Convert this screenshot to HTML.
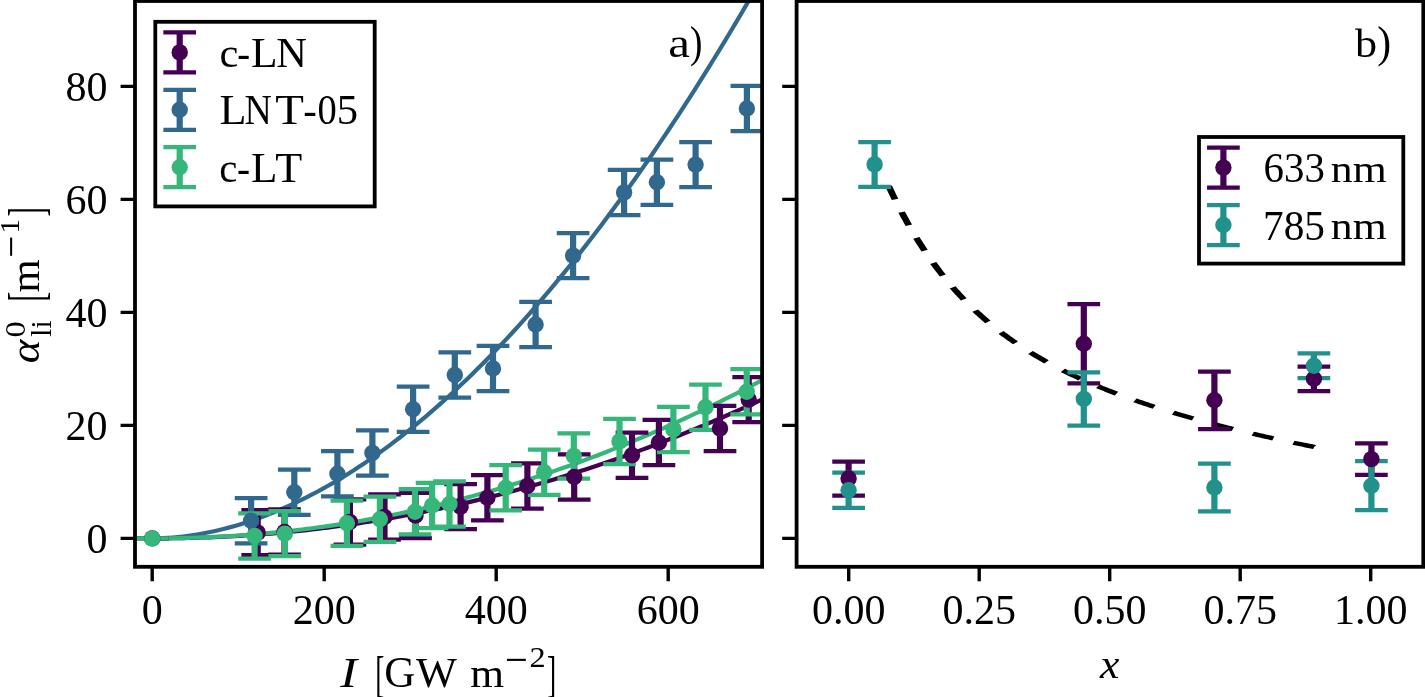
<!DOCTYPE html>
<html lang="en"><head><meta charset="utf-8"><title>Light-induced absorption</title>
<style>html,body{margin:0;padding:0;background:#fff}body{width:1425px;height:697px;overflow:hidden}svg{display:block}text{font-family:"Liberation Serif","DejaVu Serif",serif;fill:#000}</style>
</head><body>
<svg width="1425" height="697" viewBox="0 0 1425 697">
<rect width="1425" height="697" fill="#fff"/>
<defs><clipPath id="cl"><rect x="135.0" y="1.0" width="627.1" height="565.8"/></clipPath>
<clipPath id="cr"><rect x="796.6" y="1.0" width="626.6999999999999" height="565.8"/></clipPath></defs>
<g clip-path="url(#cl)">
<path d="M152.2 538.4L157.36 538.39L162.52 538.37L167.68 538.33L172.84 538.27L178 538.19L183.16 538.09L188.32 537.98L193.48 537.84L198.64 537.69L203.8 537.52L208.96 537.33L214.12 537.12L219.28 536.89L224.44 536.65L229.6 536.38L234.76 536.1L239.92 535.79L245.08 535.47L250.24 535.12L255.4 534.76L260.56 534.38L265.72 533.97L270.88 533.55L276.04 533.11L281.2 532.65L286.36 532.17L291.52 531.67L296.68 531.14L301.84 530.6L307 530.04L312.16 529.46L317.32 528.86L322.48 528.24L327.64 527.6L332.8 526.94L337.96 526.26L343.12 525.55L348.28 524.83L353.44 524.09L358.6 523.33L363.76 522.54L368.92 521.74L374.08 520.92L379.24 520.07L384.4 519.21L389.56 518.33L394.72 517.42L399.88 516.5L405.04 515.55L410.2 514.58L415.36 513.6L420.52 512.59L425.68 511.56L430.84 510.51L436 509.45L441.16 508.36L446.32 507.25L451.48 506.12L456.64 504.96L461.8 503.79L466.96 502.6L472.12 501.39L477.28 500.15L482.44 498.9L487.6 497.62L492.76 496.32L497.92 495.01L503.08 493.67L508.24 492.31L513.4 490.93L518.56 489.53L523.72 488.11L528.88 486.67L534.04 485.2L539.2 483.72L544.36 482.21L549.52 480.69L554.68 479.14L559.84 477.57L565 475.98L570.16 474.37L575.32 472.74L580.48 471.09L585.64 469.42L590.8 467.72L595.96 466.01L601.12 464.27L606.28 462.51L611.44 460.74L616.6 458.94L621.76 457.12L626.92 455.27L632.08 453.41L637.24 451.53L642.4 449.62L647.56 447.7L652.72 445.75L657.88 443.78L663.04 441.79L668.2 439.78L673.36 437.75L678.52 435.69L683.68 433.62L688.84 431.52L694 429.41L699.16 427.27L704.32 425.11L709.48 422.93L714.64 420.72L719.8 418.5L724.96 416.25L730.12 413.99L735.28 411.7L740.44 409.39L745.6 407.06L750.76 404.71L755.92 402.33L761.08 399.94L766.24 397.52L771.4 395.09" stroke="#440154" stroke-width="4.2" fill="none" stroke-linejoin="round"/>
<path d="M152.2 538.4L157.36 538.34L162.52 538.16L167.68 537.88L172.84 537.51L178 537.04L183.16 536.47L188.32 535.81L193.48 535.06L198.64 534.23L203.8 533.3L208.96 532.29L214.12 531.18L219.28 530L224.44 528.72L229.6 527.37L234.76 525.93L239.92 524.4L245.08 522.79L250.24 521.1L255.4 519.33L260.56 517.47L265.72 515.53L270.88 513.51L276.04 511.41L281.2 509.23L286.36 506.97L291.52 504.63L296.68 502.21L301.84 499.72L307 497.14L312.16 494.48L317.32 491.75L322.48 488.93L327.64 486.04L332.8 483.07L337.96 480.02L343.12 476.9L348.28 473.7L353.44 470.42L358.6 467.06L363.76 463.63L368.92 460.12L374.08 456.54L379.24 452.88L384.4 449.14L389.56 445.33L394.72 441.44L399.88 437.48L405.04 433.44L410.2 429.32L415.36 425.14L420.52 420.87L425.68 416.53L430.84 412.12L436 407.63L441.16 403.07L446.32 398.44L451.48 393.73L456.64 388.94L461.8 384.08L466.96 379.15L472.12 374.15L477.28 369.07L482.44 363.92L487.6 358.69L492.76 353.4L497.92 348.03L503.08 342.58L508.24 337.07L513.4 331.48L518.56 325.82L523.72 320.08L528.88 314.27L534.04 308.4L539.2 302.45L544.36 296.42L549.52 290.33L554.68 284.16L559.84 277.92L565 271.61L570.16 265.23L575.32 258.78L580.48 252.25L585.64 245.65L590.8 238.99L595.96 232.25L601.12 225.44L606.28 218.56L611.44 211.6L616.6 204.58L621.76 197.49L626.92 190.32L632.08 183.09L637.24 175.78L642.4 168.41L647.56 160.96L652.72 153.44L657.88 145.85L663.04 138.2L668.2 130.47L673.36 122.67L678.52 114.8L683.68 106.86L688.84 98.86L694 90.78L699.16 82.63L704.32 74.41L709.48 66.13L714.64 57.77L719.8 49.35L724.96 40.85L730.12 32.29L735.28 23.65L740.44 14.95L745.6 6.18L750.76 -2.67L755.92 -11.58L761.08 -20.56L766.24 -29.61L771.4 -38.72" stroke="#31688e" stroke-width="4.2" fill="none" stroke-linejoin="round"/>
<path d="M152.2 538.4L157.36 538.39L162.52 538.36L167.68 538.32L172.84 538.25L178 538.16L183.16 538.05L188.32 537.92L193.48 537.77L198.64 537.59L203.8 537.4L208.96 537.18L214.12 536.94L219.28 536.69L224.44 536.4L229.6 536.1L234.76 535.78L239.92 535.43L245.08 535.06L250.24 534.67L255.4 534.25L260.56 533.82L265.72 533.36L270.88 532.88L276.04 532.37L281.2 531.85L286.36 531.3L291.52 530.73L296.68 530.13L301.84 529.52L307 528.88L312.16 528.22L317.32 527.53L322.48 526.82L327.64 526.09L332.8 525.34L337.96 524.56L343.12 523.76L348.28 522.94L353.44 522.1L358.6 521.23L363.76 520.34L368.92 519.42L374.08 518.48L379.24 517.52L384.4 516.54L389.56 515.53L394.72 514.5L399.88 513.44L405.04 512.37L410.2 511.27L415.36 510.14L420.52 508.99L425.68 507.82L430.84 506.63L436 505.41L441.16 504.17L446.32 502.91L451.48 501.62L456.64 500.3L461.8 498.97L466.96 497.61L472.12 496.23L477.28 494.82L482.44 493.39L487.6 491.94L492.76 490.46L497.92 488.96L503.08 487.44L508.24 485.89L513.4 484.32L518.56 482.72L523.72 481.1L528.88 479.46L534.04 477.79L539.2 476.1L544.36 474.38L549.52 472.64L554.68 470.88L559.84 469.1L565 467.29L570.16 465.45L575.32 463.59L580.48 461.71L585.64 459.8L590.8 457.87L595.96 455.92L601.12 453.94L606.28 451.94L611.44 449.91L616.6 447.86L621.76 445.79L626.92 443.69L632.08 441.57L637.24 439.42L642.4 437.25L647.56 435.06L652.72 432.84L657.88 430.6L663.04 428.33L668.2 426.04L673.36 423.72L678.52 421.38L683.68 419.02L688.84 416.63L694 414.22L699.16 411.78L704.32 409.32L709.48 406.83L714.64 404.33L719.8 401.79L724.96 399.23L730.12 396.65L735.28 394.04L740.44 391.41L745.6 388.76L750.76 386.08L755.92 383.37L761.08 380.65L766.24 377.89L771.4 375.12" stroke="#35b779" stroke-width="4.2" fill="none" stroke-linejoin="round"/>
<path d="M257.7 510V555.2M284.5 509.4V554.6M349.9 499.4V544.6M384.5 494.4V539.6M415.5 492.9V538.1M460.6 484V529.2M487.4 475.2V520.4M527.4 463.4V508.6M574.2 454.4V499.6M632 432.7V477.9M658.9 419.9V465.1M720 405.8V451M748.7 377V422.2" stroke="#440154" stroke-width="6.2" fill="none"/>
<path d="M135.85 538.4H168.55M135.85 538.4H168.55M241.35 510H274.05M241.35 555.2H274.05M268.15 509.4H300.85M268.15 554.6H300.85M333.55 499.4H366.25M333.55 544.6H366.25M368.15 494.4H400.85M368.15 539.6H400.85M399.15 492.9H431.85M399.15 538.1H431.85M444.25 484H476.95M444.25 529.2H476.95M471.05 475.2H503.75M471.05 520.4H503.75M511.05 463.4H543.75M511.05 508.6H543.75M557.85 454.4H590.55M557.85 499.6H590.55M615.65 432.7H648.35M615.65 477.9H648.35M642.55 419.9H675.25M642.55 465.1H675.25M703.65 405.8H736.35M703.65 451H736.35M732.35 377H765.05M732.35 422.2H765.05" stroke="#440154" stroke-width="4.25" fill="none"/>
<path d="M251.1 498.2V543.4M294.3 469.6V514.8M337.4 451.2V496.4M372.4 430.3V475.5M413.1 386.6V431.8M454.8 352.4V397.6M493 345.9V391.1M535.6 301.9V347.1M573.1 233V278.2M624.1 169.8V215M656.9 159.6V204.8M695.6 142V187.2M746.9 85.9V131.1" stroke="#31688e" stroke-width="6.2" fill="none"/>
<path d="M234.75 498.2H267.45M234.75 543.4H267.45M277.95 469.6H310.65M277.95 514.8H310.65M321.05 451.2H353.75M321.05 496.4H353.75M356.05 430.3H388.75M356.05 475.5H388.75M396.75 386.6H429.45M396.75 431.8H429.45M438.45 352.4H471.15M438.45 397.6H471.15M476.65 345.9H509.35M476.65 391.1H509.35M519.25 301.9H551.95M519.25 347.1H551.95M556.75 233H589.45M556.75 278.2H589.45M607.75 169.8H640.45M607.75 215H640.45M640.55 159.6H673.25M640.55 204.8H673.25M679.25 142H711.95M679.25 187.2H711.95M730.55 85.9H763.25M730.55 131.1H763.25" stroke="#31688e" stroke-width="4.25" fill="none"/>
<path d="M254.6 513.3V558.5M284.8 511V556.2M346.9 500.6V545.8M379.9 496.7V541.9M415 489.2V534.4M432.1 482.9V528.1M449.5 481.4V526.6M505.7 465.2V510.4M544.2 449.6V494.8M573.8 433.4V478.6M619.5 418.8V464M673.4 406.8V452M705.5 384.7V429.9M746.7 369.2V414.4" stroke="#35b779" stroke-width="6.2" fill="none"/>
<path d="M135.85 538.4H168.55M135.85 538.4H168.55M238.25 513.3H270.95M238.25 558.5H270.95M268.45 511H301.15M268.45 556.2H301.15M330.55 500.6H363.25M330.55 545.8H363.25M363.55 496.7H396.25M363.55 541.9H396.25M398.65 489.2H431.35M398.65 534.4H431.35M415.75 482.9H448.45M415.75 528.1H448.45M433.15 481.4H465.85M433.15 526.6H465.85M489.35 465.2H522.05M489.35 510.4H522.05M527.85 449.6H560.55M527.85 494.8H560.55M557.45 433.4H590.15M557.45 478.6H590.15M603.15 418.8H635.85M603.15 464H635.85M657.05 406.8H689.75M657.05 452H689.75M689.15 384.7H721.85M689.15 429.9H721.85M730.35 369.2H763.05M730.35 414.4H763.05" stroke="#35b779" stroke-width="4.25" fill="none"/>
<g fill="#440154"><circle cx="152.2" cy="538.4" r="8.2"/><circle cx="257.7" cy="532.6" r="8.2"/><circle cx="284.5" cy="532" r="8.2"/><circle cx="349.9" cy="522" r="8.2"/><circle cx="384.5" cy="517" r="8.2"/><circle cx="415.5" cy="515.5" r="8.2"/><circle cx="460.6" cy="506.6" r="8.2"/><circle cx="487.4" cy="497.8" r="8.2"/><circle cx="527.4" cy="486" r="8.2"/><circle cx="574.2" cy="477" r="8.2"/><circle cx="632" cy="455.3" r="8.2"/><circle cx="658.9" cy="442.5" r="8.2"/><circle cx="720" cy="428.4" r="8.2"/><circle cx="748.7" cy="399.6" r="8.2"/></g>
<g fill="#31688e"><circle cx="251.1" cy="520.8" r="8.2"/><circle cx="294.3" cy="492.2" r="8.2"/><circle cx="337.4" cy="473.8" r="8.2"/><circle cx="372.4" cy="452.9" r="8.2"/><circle cx="413.1" cy="409.2" r="8.2"/><circle cx="454.8" cy="375" r="8.2"/><circle cx="493" cy="368.5" r="8.2"/><circle cx="535.6" cy="324.5" r="8.2"/><circle cx="573.1" cy="255.6" r="8.2"/><circle cx="624.1" cy="192.4" r="8.2"/><circle cx="656.9" cy="182.2" r="8.2"/><circle cx="695.6" cy="164.6" r="8.2"/><circle cx="746.9" cy="108.5" r="8.2"/></g>
<g fill="#35b779"><circle cx="152.2" cy="538.4" r="8.2"/><circle cx="254.6" cy="535.9" r="8.2"/><circle cx="284.8" cy="533.6" r="8.2"/><circle cx="346.9" cy="523.2" r="8.2"/><circle cx="379.9" cy="519.3" r="8.2"/><circle cx="415" cy="511.8" r="8.2"/><circle cx="432.1" cy="505.5" r="8.2"/><circle cx="449.5" cy="504" r="8.2"/><circle cx="505.7" cy="487.8" r="8.2"/><circle cx="544.2" cy="472.2" r="8.2"/><circle cx="573.8" cy="456" r="8.2"/><circle cx="619.5" cy="441.4" r="8.2"/><circle cx="673.4" cy="429.4" r="8.2"/><circle cx="705.5" cy="407.3" r="8.2"/><circle cx="746.7" cy="391.8" r="8.2"/></g>
</g>
<g clip-path="url(#cr)">
<g transform="scale(1.576 1)"><path d="M563.89 186.09L564.72 188.89L565.54 191.64L566.37 194.36L567.2 197.04L568.03 199.68L568.86 202.29L569.68 204.86L570.51 207.4L571.34 209.9L572.17 212.37L573 214.8L573.83 217.2L574.65 219.57L575.48 221.91L576.31 224.22L577.14 226.49L577.97 228.74L578.79 230.96L579.62 233.14L580.45 235.3L581.28 237.43L582.11 239.53L582.93 241.61L583.76 243.66L584.59 245.68L585.42 247.67L586.25 249.64L587.08 251.59L587.9 253.51L588.73 255.4L589.56 257.28L590.39 259.12L591.22 260.95L592.04 262.75L592.87 264.53L593.7 266.28L594.53 268.02L595.36 269.73L596.18 271.42L597.01 273.1L597.84 274.75L598.67 276.38L599.5 277.99L600.33 279.58L601.15 281.15L601.98 282.71L602.81 284.24L603.64 285.76L604.47 287.26L605.29 288.74L606.12 290.2L606.95 291.65L607.78 293.08L608.61 294.49L609.44 295.89L610.26 297.27L611.09 298.63L611.92 299.98L612.75 301.31L613.58 302.63L614.4 303.93L615.23 305.22L616.06 306.5L616.89 307.76L617.72 309L618.54 310.23L619.37 311.45L620.2 312.66L621.03 313.85L621.86 315.03L622.69 316.2L623.51 317.35L624.34 318.49L625.17 319.62L626 320.74L626.83 321.84L627.65 322.94L628.48 324.02L629.31 325.09L630.14 326.15L630.97 327.2L631.79 328.24L632.62 329.27L633.45 330.29L634.28 331.29L635.11 332.29L635.94 333.28L636.76 334.26L637.59 335.22L638.42 336.18L639.25 337.13L640.08 338.07L640.9 339L641.73 339.92L642.56 340.83L643.39 341.74L644.22 342.63L645.05 343.52L645.87 344.4L646.7 345.27L647.53 346.13L648.36 346.99L649.19 347.83L650.01 348.67L650.84 349.5L651.67 350.33L652.5 351.14L653.33 351.95L654.15 352.75L654.98 353.55L655.81 354.34L656.64 355.12L657.47 355.89L658.3 356.66L659.12 357.42L659.95 358.17L660.78 358.92L661.61 359.66L662.44 360.4L663.26 361.13L664.09 361.85L664.92 362.57L665.75 363.28L666.58 363.98L667.4 364.68L668.23 365.38L669.06 366.07L669.89 366.75L670.72 367.43L671.55 368.1L672.37 368.77L673.2 369.43L674.03 370.09L674.86 370.74L675.69 371.39L676.51 372.03L677.34 372.66L678.17 373.3L679 373.92L679.83 374.55L680.65 375.17L681.48 375.78L682.31 376.39L683.14 376.99L683.97 377.59L684.8 378.19L685.62 378.78L686.45 379.37L687.28 379.96L688.11 380.54L688.94 381.11L689.76 381.68L690.59 382.25L691.42 382.81L692.25 383.37L693.08 383.93L693.91 384.48L694.73 385.03L695.56 385.58L696.39 386.12L697.22 386.66L698.05 387.19L698.87 387.73L699.7 388.25L700.53 388.78L701.36 389.3L702.19 389.82L703.01 390.33L703.84 390.84L704.67 391.35L705.5 391.86L706.33 392.36L707.16 392.86L707.98 393.36L708.81 393.85L709.64 394.34L710.47 394.83L711.3 395.31L712.12 395.79L712.95 396.27L713.78 396.75L714.61 397.22L715.44 397.69L716.26 398.16L717.09 398.63L717.92 399.09L718.75 399.55L719.58 400.01L720.41 400.46L721.23 400.91L722.06 401.36L722.89 401.81L723.72 402.26L724.55 402.7L725.37 403.14L726.2 403.58L727.03 404.02L727.86 404.45L728.69 404.88L729.52 405.31L730.34 405.74L731.17 406.16L732 406.58L732.83 407L733.66 407.42L734.48 407.84L735.31 408.25L736.14 408.67L736.97 409.08L737.8 409.48L738.62 409.89L739.45 410.29L740.28 410.7L741.11 411.1L741.94 411.49L742.77 411.89L743.59 412.29L744.42 412.68L745.25 413.07L746.08 413.46L746.91 413.85L747.73 414.23L748.56 414.61L749.39 415L750.22 415.38L751.05 415.76L751.87 416.13L752.7 416.51L753.53 416.88L754.36 417.25L755.19 417.62L756.02 417.99L756.84 418.36L757.67 418.72L758.5 419.09L759.33 419.45L760.16 419.81L760.98 420.17L761.81 420.53L762.64 420.88L763.47 421.24L764.3 421.59L765.12 421.94L765.95 422.29L766.78 422.64L767.61 422.99L768.44 423.33L769.27 423.68L770.09 424.02L770.92 424.36L771.75 424.7L772.58 425.04L773.41 425.38L774.23 425.71L775.06 426.05L775.89 426.38L776.72 426.71L777.55 427.05L778.38 427.38L779.2 427.7L780.03 428.03L780.86 428.36L781.69 428.68L782.52 429L783.34 429.33L784.17 429.65L785 429.97L785.83 430.28L786.66 430.6L787.48 430.92L788.31 431.23L789.14 431.55L789.97 431.86L790.8 432.17L791.63 432.48L792.45 432.79L793.28 433.1L794.11 433.4L794.94 433.71L795.77 434.01L796.59 434.32L797.42 434.62L798.25 434.92L799.08 435.22L799.91 435.52L800.73 435.82L801.56 436.11L802.39 436.41L803.22 436.71L804.05 437L804.88 437.29L805.7 437.58L806.53 437.87L807.36 438.16L808.19 438.45L809.02 438.74L809.84 439.03L810.67 439.31L811.5 439.6L812.33 439.88L813.16 440.16L813.99 440.45L814.81 440.73L815.64 441.01L816.47 441.29L817.3 441.56L818.13 441.84L818.95 442.12L819.78 442.39L820.61 442.67L821.44 442.94L822.27 443.21L823.09 443.48L823.92 443.75L824.75 444.02L825.58 444.29L826.41 444.56L827.24 444.83L828.06 445.09L828.89 445.36L829.72 445.62L830.55 445.89L831.38 446.15L832.2 446.41L833.03 446.67L833.86 446.93L833.89 446.95" stroke="#000" stroke-width="4.3" fill="none" stroke-dasharray="13.85 13.48"/></g>
<path d="M848.6 461.5V495.5M1083.8 304.2V383.4M1214.4 371.6V429M1313.9 366.6V391M1371.4 443.3V474.9" stroke="#440154" stroke-width="6.2" fill="none"/>
<path d="M832.25 461.5H864.95M832.25 495.5H864.95M1067.45 304.2H1100.15M1067.45 383.4H1100.15M1198.05 371.6H1230.75M1198.05 429H1230.75M1297.55 366.6H1330.25M1297.55 391H1330.25M1355.05 443.3H1387.75M1355.05 474.9H1387.75" stroke="#440154" stroke-width="4.25" fill="none"/>
<path d="M848.6 472.7V507.9M874.6 142V186.8M1083.8 372.3V425.5M1214.4 463.7V511.3M1313.9 353.45V378.15M1371.4 461.2V510.2" stroke="#21918c" stroke-width="6.2" fill="none"/>
<path d="M832.25 472.7H864.95M832.25 507.9H864.95M858.25 142H890.95M858.25 186.8H890.95M1067.45 372.3H1100.15M1067.45 425.5H1100.15M1198.05 463.7H1230.75M1198.05 511.3H1230.75M1297.55 353.45H1330.25M1297.55 378.15H1330.25M1355.05 461.2H1387.75M1355.05 510.2H1387.75" stroke="#21918c" stroke-width="4.25" fill="none"/>
<g fill="#440154"><circle cx="848.6" cy="478.5" r="8.2"/><circle cx="1083.8" cy="343.8" r="8.2"/><circle cx="1214.4" cy="400.3" r="8.2"/><circle cx="1313.9" cy="378.8" r="8.2"/><circle cx="1371.4" cy="459.1" r="8.2"/></g>
<g fill="#21918c"><circle cx="848.6" cy="490.3" r="8.2"/><circle cx="874.6" cy="164.4" r="8.2"/><circle cx="1083.8" cy="398.9" r="8.2"/><circle cx="1214.4" cy="487.5" r="8.2"/><circle cx="1313.9" cy="365.8" r="8.2"/><circle cx="1371.4" cy="485.7" r="8.2"/></g>
</g>
<g stroke="#000" fill="none"><rect x="135.0" y="1.0" width="627.1" height="565.8" stroke-width="3.8"/><path d="M152.2 566.8v14.4M324.2 566.8v14.4M496.2 566.8v14.4M668.2 566.8v14.4M135.0 538.4h-14.4M135.0 425.4h-14.4M135.0 312.4h-14.4M135.0 199.4h-14.4M135.0 86.4h-14.4" stroke-width="3.4"/></g>
<g stroke="#000" fill="none"><rect x="796.6" y="1.0" width="626.7" height="565.8" stroke-width="3.8"/><path d="M848.7 566.8v14.4M979.2 566.8v14.4M1109.7 566.8v14.4M1240.2 566.8v14.4M1370.7 566.8v14.4M796.6 538.4h-14.4M796.6 425.4h-14.4M796.6 312.4h-14.4M796.6 199.4h-14.4M796.6 86.4h-14.4" stroke-width="3.4"/></g>
<g font-size="42">
<text x="107.5" y="553.4" text-anchor="end">0</text>
<text x="107.5" y="440.4" text-anchor="end">20</text>
<text x="107.5" y="327.4" text-anchor="end">40</text>
<text x="107.5" y="214.4" text-anchor="end">60</text>
<text x="107.5" y="101.4" text-anchor="end">80</text>
<text x="152.2" y="624.3" text-anchor="middle">0</text>
<text x="324.2" y="624.3" text-anchor="middle">200</text>
<text x="496.2" y="624.3" text-anchor="middle">400</text>
<text x="668.2" y="624.3" text-anchor="middle">600</text>
<text x="848.7" y="624.3" text-anchor="middle">0.00</text>
<text x="979.2" y="624.3" text-anchor="middle">0.25</text>
<text x="1109.7" y="624.3" text-anchor="middle">0.50</text>
<text x="1240.2" y="624.3" text-anchor="middle">0.75</text>
<text x="1370.7" y="624.3" text-anchor="middle">1.00</text>
</g>
<text transform="translate(668.35 56.73) scale(1.1636 0.9432)" font-size="42">a</text><text transform="translate(689.89 57.48) scale(0.8909 1.0649)" font-size="42">)</text>
<text transform="translate(1355.1 56.92) scale(1.0513 0.9661)" font-size="42">b</text><text transform="translate(1377.16 57.48) scale(0.9909 1.0649)" font-size="42">)</text>
<g>
<text transform="translate(340.2 686.9) scale(1.2000 1.0145)" font-size="42" font-style="italic">I</text>
<text transform="translate(375.24 691.37) scale(0.6526 1.2058)" font-size="42">[</text><text transform="translate(384.21 687.27) scale(1.0239 1.0584)" font-size="42">G</text><text transform="translate(416.1 686.9) scale(1.0304 1.0071)" font-size="42">W</text>
<text transform="translate(470.16 686.9) scale(1.0355 0.9367)" font-size="42">m</text><text transform="translate(505.03 673.9) scale(1.3818 1.4667)" font-size="29.4">−</text><text transform="translate(529.43 666.7) scale(1.0979 0.9692)" font-size="29.4">2</text><text transform="translate(547.01 691.37) scale(0.6595 1.2058)" font-size="42">]</text>
</g>
<text transform="translate(1100.12 677.6) scale(1.0400 0.9610)" font-size="42" font-style="italic">x</text>
<g transform="translate(0 362.3) rotate(-90)">
<text transform="translate(-1.04 39.33) scale(1.0698 0.9383)" font-size="42" font-style="italic">α</text><text transform="translate(24.72 24.85) scale(1.1020 1.0177)" font-size="29.4">0</text><text transform="translate(25.6 51) scale(0.9902 0.9926)" font-size="29.4">li</text>
<text transform="translate(60.45 42.76) scale(0.7158 1.1884)" font-size="42">[</text><text transform="translate(69.68 39) scale(1.0161 0.9418)" font-size="42">m</text><text transform="translate(104.6 25.1) scale(1.3309 1.4000)" font-size="29.4">−</text><text transform="translate(128.82 19.4) scale(0.9905 0.9558)" font-size="29.4">1</text><text transform="translate(145.91 42.76) scale(0.6595 1.1884)" font-size="42">]</text>
</g>
<g>
<rect x="155.3" y="21.8" width="219.4" height="184.6" fill="#fff" stroke="#000" stroke-width="3.8"/><path d="M179.7 32.4V72.4" stroke="#440154" stroke-width="6.2"/><path d="M163.35 32.4H196.05M163.35 72.4H196.05" stroke="#440154" stroke-width="4.25"/><circle cx="179.7" cy="52.4" r="8.2" fill="#440154"/><text transform="translate(219.49 66.9) scale(1.0095 1.0050)" font-size="42">c</text><text transform="translate(237.22 66.9) scale(0.9182 1.0050)" font-size="42">-</text><text transform="translate(251.11 66.9) scale(1.0345 1.0050)" font-size="42">L</text><text transform="translate(276.14 66.9) scale(1.0107 1.0050)" font-size="42">N</text>
<path d="M179.7 89.8V129.8" stroke="#31688e" stroke-width="6.2"/><path d="M163.35 89.8H196.05M163.35 129.8H196.05" stroke="#31688e" stroke-width="4.25"/><circle cx="179.7" cy="109.8" r="8.2" fill="#31688e"/><text transform="translate(219.38 124.2) scale(1.0529 1.0050)" font-size="42">L</text><text transform="translate(244.38 124.2) scale(0.9000 1.0050)" font-size="42">N</text><text transform="translate(275.16 124.2) scale(1.1175 1.0050)" font-size="42">T</text><text transform="translate(303.24 124.2) scale(0.9727 1.0050)" font-size="42">-</text><text transform="translate(317.52 124.4) scale(0.9167 1.0050)" font-size="42">0</text><text transform="translate(336.86 124.4) scale(1.0149 1.0050)" font-size="42">5</text>
<path d="M179.7 147.2V187.2" stroke="#35b779" stroke-width="6.2"/><path d="M163.35 147.2H196.05M163.35 187.2H196.05" stroke="#35b779" stroke-width="4.25"/><circle cx="179.7" cy="167.2" r="8.2" fill="#35b779"/><text transform="translate(219.24 181.7) scale(0.9714 1.0050)" font-size="42">c</text><text transform="translate(237 181.7) scale(0.9364 1.0050)" font-size="42">-</text><text transform="translate(251.01 181.7) scale(1.0299 1.0050)" font-size="42">L</text><text transform="translate(275.21 181.7) scale(1.0515 1.0050)" font-size="42">T</text>

<rect x="1199.0" y="137.0" width="204.3" height="126.6" fill="#fff" stroke="#000" stroke-width="3.8"/><path d="M1223.4 147.6V187.6" stroke="#440154" stroke-width="6.2"/><path d="M1207.05 147.6H1239.75M1207.05 187.6H1239.75" stroke="#440154" stroke-width="4.25"/><circle cx="1223.4" cy="167.6" r="8.2" fill="#440154"/><text transform="translate(1263.6 182.4) scale(0.9731 1.0053)" font-size="42">633</text> <text transform="translate(1330.86 181.8) scale(1.0423 0.9165)" font-size="42">nm</text>
<path d="M1223.4 205V245" stroke="#21918c" stroke-width="6.2"/><path d="M1207.05 205H1239.75M1207.05 245H1239.75" stroke="#21918c" stroke-width="4.25"/><circle cx="1223.4" cy="225" r="8.2" fill="#21918c"/><text transform="translate(1263 240.09) scale(0.9829 1.0105)" font-size="42">785</text> <text transform="translate(1330.86 239.2) scale(1.0423 0.9266)" font-size="42">nm</text>

</svg></body></html>
